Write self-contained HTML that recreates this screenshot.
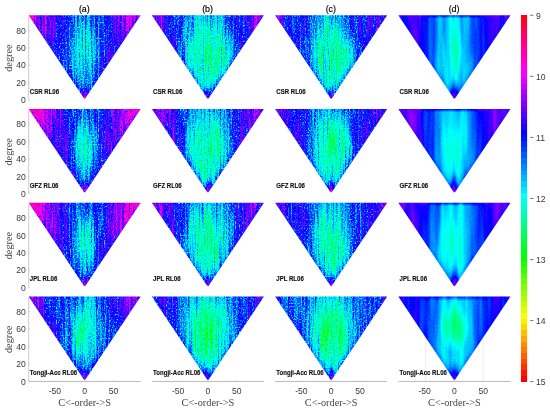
<!DOCTYPE html>
<html lang="en"><head><meta charset="utf-8"><title>figure</title>
<style>html,body{margin:0;padding:0;background:#fff;overflow:hidden}svg{display:block}text{font-family:"Liberation Sans",Arial,sans-serif}.tk{font-size:8.6px;fill:#383838}.ser{font-family:"Liberation Serif","Times New Roman",serif;font-size:10.3px;fill:#454545}.ttl{font-size:8.9px;fill:#000;stroke:#000;stroke-width:0.15px}.lab{font-size:7.1px;font-weight:bold;fill:#111;stroke:#111;stroke-width:0.15px}</style></head><body>
<svg width="550" height="413" viewBox="0 0 550 413">
<defs>
<filter id="f00" x="0" y="0" width="1" height="1" filterUnits="objectBoundingBox" color-interpolation-filters="sRGB">
<feTurbulence type="fractalNoise" baseFrequency="0.71 0.63" numOctaves="1" seed="1"/>
<feColorMatrix type="matrix" values="1 0 0 0 0  1 0 0 0 0  1 0 0 0 0  0 0 0 0 1"/>
<feComponentTransfer result="n1"><feFuncR type="table" tableValues="0.36 0.38 0.41 0.44 0.47 0.50 0.60 0.74 0.90 1 1"/><feFuncG type="table" tableValues="0.36 0.38 0.41 0.44 0.47 0.50 0.60 0.74 0.90 1 1"/><feFuncB type="table" tableValues="0.36 0.38 0.41 0.44 0.47 0.50 0.60 0.74 0.90 1 1"/></feComponentTransfer>
<feTurbulence type="fractalNoise" baseFrequency="0.55 0.025" numOctaves="2" seed="41"/>
<feColorMatrix type="matrix" values="1 0 0 0 0  1 0 0 0 0  1 0 0 0 0  0 0 0 0 1" result="n2"/>
<feComposite in="SourceGraphic" in2="n1" operator="arithmetic" k1="0" k2="1" k3="0.480" k4="-0.2568" result="c1"/>
<feComposite in="c1" in2="n2" operator="arithmetic" k1="0" k2="1" k3="0.300" k4="-0.1500"/>
<feComponentTransfer><feFuncR type="table" tableValues="1 1 0 0 0 1 1"/><feFuncG type="table" tableValues="0 0 0 1 1 1 0"/><feFuncB type="table" tableValues="0 1 1 1 0 0 0"/></feComponentTransfer>
<feGaussianBlur stdDeviation="0.66"/>
</filter>
<linearGradient id="h00" gradientUnits="userSpaceOnUse" x1="28.60" y1="0" x2="140.70" y2="0">
<stop offset="0.0000" stop-color="#282828"/>
<stop offset="0.0594" stop-color="#2e2e2e"/>
<stop offset="0.1107" stop-color="#3a3a3a"/>
<stop offset="0.1619" stop-color="#474747"/>
<stop offset="0.2182" stop-color="#4f4f4f"/>
<stop offset="0.2951" stop-color="#595959"/>
<stop offset="0.3975" stop-color="#666666"/>
<stop offset="0.5000" stop-color="#686868"/>
<stop offset="0.6025" stop-color="#666666"/>
<stop offset="0.7049" stop-color="#595959"/>
<stop offset="0.7818" stop-color="#4f4f4f"/>
<stop offset="0.8381" stop-color="#474747"/>
<stop offset="0.8893" stop-color="#3a3a3a"/>
<stop offset="0.9406" stop-color="#2e2e2e"/>
<stop offset="1.0000" stop-color="#282828"/>
</linearGradient>
<radialGradient id="b00_0"><stop offset="0" stop-color="#8e8e8e" stop-opacity="0.85"/><stop offset="0.45" stop-color="#8e8e8e" stop-opacity="0.552"/><stop offset="0.75" stop-color="#8e8e8e" stop-opacity="0.187"/><stop offset="1" stop-color="#8e8e8e" stop-opacity="0"/></radialGradient>
<radialGradient id="a00"><stop offset="0" stop-color="#373737" stop-opacity="0.9"/><stop offset="0.4" stop-color="#373737" stop-opacity="0.630"/><stop offset="1" stop-color="#373737" stop-opacity="0"/></radialGradient>
<clipPath id="c00"><path d="M28.60 15.30H140.70L85.25 98.40H84.05Z"/></clipPath>
<filter id="f01" x="0" y="0" width="1" height="1" filterUnits="objectBoundingBox" color-interpolation-filters="sRGB">
<feTurbulence type="fractalNoise" baseFrequency="0.71 0.63" numOctaves="1" seed="2"/>
<feColorMatrix type="matrix" values="1 0 0 0 0  1 0 0 0 0  1 0 0 0 0  0 0 0 0 1"/>
<feComponentTransfer result="n1"><feFuncR type="table" tableValues="0.36 0.38 0.41 0.44 0.47 0.50 0.60 0.74 0.90 1 1"/><feFuncG type="table" tableValues="0.36 0.38 0.41 0.44 0.47 0.50 0.60 0.74 0.90 1 1"/><feFuncB type="table" tableValues="0.36 0.38 0.41 0.44 0.47 0.50 0.60 0.74 0.90 1 1"/></feComponentTransfer>
<feTurbulence type="fractalNoise" baseFrequency="0.55 0.025" numOctaves="2" seed="42"/>
<feColorMatrix type="matrix" values="1 0 0 0 0  1 0 0 0 0  1 0 0 0 0  0 0 0 0 1" result="n2"/>
<feComposite in="SourceGraphic" in2="n1" operator="arithmetic" k1="0" k2="1" k3="0.480" k4="-0.2568" result="c1"/>
<feComposite in="c1" in2="n2" operator="arithmetic" k1="0" k2="1" k3="0.300" k4="-0.1500"/>
<feComponentTransfer><feFuncR type="table" tableValues="1 1 0 0 0 1 1"/><feFuncG type="table" tableValues="0 0 0 1 1 1 0"/><feFuncB type="table" tableValues="0 1 1 1 0 0 0"/></feComponentTransfer>
<feGaussianBlur stdDeviation="0.66"/>
</filter>
<linearGradient id="h01" gradientUnits="userSpaceOnUse" x1="151.85" y1="0" x2="263.95" y2="0">
<stop offset="0.0000" stop-color="#464646"/>
<stop offset="0.0441" stop-color="#474747"/>
<stop offset="0.0799" stop-color="#414141"/>
<stop offset="0.1158" stop-color="#4b4b4b"/>
<stop offset="0.1516" stop-color="#515151"/>
<stop offset="0.2029" stop-color="#555555"/>
<stop offset="0.2541" stop-color="#5d5d5d"/>
<stop offset="0.3053" stop-color="#686868"/>
<stop offset="0.3719" stop-color="#707070"/>
<stop offset="0.5000" stop-color="#727272"/>
<stop offset="0.6281" stop-color="#707070"/>
<stop offset="0.6947" stop-color="#686868"/>
<stop offset="0.7459" stop-color="#5d5d5d"/>
<stop offset="0.7971" stop-color="#555555"/>
<stop offset="0.8484" stop-color="#515151"/>
<stop offset="0.8842" stop-color="#4b4b4b"/>
<stop offset="0.9201" stop-color="#414141"/>
<stop offset="0.9559" stop-color="#474747"/>
<stop offset="1.0000" stop-color="#464646"/>
</linearGradient>
<radialGradient id="b01_0"><stop offset="0" stop-color="#979797" stop-opacity="0.85"/><stop offset="0.45" stop-color="#979797" stop-opacity="0.552"/><stop offset="0.75" stop-color="#979797" stop-opacity="0.187"/><stop offset="1" stop-color="#979797" stop-opacity="0"/></radialGradient>
<radialGradient id="a01"><stop offset="0" stop-color="#404040" stop-opacity="0.9"/><stop offset="0.4" stop-color="#404040" stop-opacity="0.630"/><stop offset="1" stop-color="#404040" stop-opacity="0"/></radialGradient>
<clipPath id="c01"><path d="M151.85 15.30H263.95L208.50 98.40H207.30Z"/></clipPath>
<filter id="f02" x="0" y="0" width="1" height="1" filterUnits="objectBoundingBox" color-interpolation-filters="sRGB">
<feTurbulence type="fractalNoise" baseFrequency="0.71 0.63" numOctaves="1" seed="3"/>
<feColorMatrix type="matrix" values="1 0 0 0 0  1 0 0 0 0  1 0 0 0 0  0 0 0 0 1"/>
<feComponentTransfer result="n1"><feFuncR type="table" tableValues="0.36 0.38 0.41 0.44 0.47 0.50 0.60 0.74 0.90 1 1"/><feFuncG type="table" tableValues="0.36 0.38 0.41 0.44 0.47 0.50 0.60 0.74 0.90 1 1"/><feFuncB type="table" tableValues="0.36 0.38 0.41 0.44 0.47 0.50 0.60 0.74 0.90 1 1"/></feComponentTransfer>
<feTurbulence type="fractalNoise" baseFrequency="0.55 0.025" numOctaves="2" seed="43"/>
<feColorMatrix type="matrix" values="1 0 0 0 0  1 0 0 0 0  1 0 0 0 0  0 0 0 0 1" result="n2"/>
<feComposite in="SourceGraphic" in2="n1" operator="arithmetic" k1="0" k2="1" k3="0.480" k4="-0.2568" result="c1"/>
<feComposite in="c1" in2="n2" operator="arithmetic" k1="0" k2="1" k3="0.300" k4="-0.1500"/>
<feComponentTransfer><feFuncR type="table" tableValues="1 1 0 0 0 1 1"/><feFuncG type="table" tableValues="0 0 0 1 1 1 0"/><feFuncB type="table" tableValues="0 1 1 1 0 0 0"/></feComponentTransfer>
<feGaussianBlur stdDeviation="0.66"/>
</filter>
<linearGradient id="h02" gradientUnits="userSpaceOnUse" x1="275.10" y1="0" x2="387.20" y2="0">
<stop offset="0.0000" stop-color="#3d3d3d"/>
<stop offset="0.0389" stop-color="#464646"/>
<stop offset="0.0902" stop-color="#515151"/>
<stop offset="0.1516" stop-color="#565656"/>
<stop offset="0.2182" stop-color="#595959"/>
<stop offset="0.2848" stop-color="#5f5f5f"/>
<stop offset="0.3463" stop-color="#686868"/>
<stop offset="0.4078" stop-color="#707070"/>
<stop offset="0.5000" stop-color="#717171"/>
<stop offset="0.5922" stop-color="#707070"/>
<stop offset="0.6537" stop-color="#686868"/>
<stop offset="0.7152" stop-color="#5f5f5f"/>
<stop offset="0.7818" stop-color="#595959"/>
<stop offset="0.8484" stop-color="#565656"/>
<stop offset="0.9098" stop-color="#515151"/>
<stop offset="0.9611" stop-color="#464646"/>
<stop offset="1.0000" stop-color="#3d3d3d"/>
</linearGradient>
<radialGradient id="b02_0"><stop offset="0" stop-color="#999999" stop-opacity="0.85"/><stop offset="0.45" stop-color="#999999" stop-opacity="0.552"/><stop offset="0.75" stop-color="#999999" stop-opacity="0.187"/><stop offset="1" stop-color="#999999" stop-opacity="0"/></radialGradient>
<radialGradient id="a02"><stop offset="0" stop-color="#404040" stop-opacity="0.9"/><stop offset="0.4" stop-color="#404040" stop-opacity="0.630"/><stop offset="1" stop-color="#404040" stop-opacity="0"/></radialGradient>
<clipPath id="c02"><path d="M275.10 15.30H387.20L331.75 98.40H330.55Z"/></clipPath>
<filter id="f03" x="0" y="0" width="1" height="1" filterUnits="objectBoundingBox" color-interpolation-filters="sRGB">
<feTurbulence type="fractalNoise" baseFrequency="0.71 0.63" numOctaves="1" seed="4"/>
<feColorMatrix type="matrix" values="1 0 0 0 0  1 0 0 0 0  1 0 0 0 0  0 0 0 0 1"/>
<feComponentTransfer result="n1"><feFuncR type="table" tableValues="0.36 0.38 0.41 0.44 0.47 0.50 0.60 0.74 0.90 1 1"/><feFuncG type="table" tableValues="0.36 0.38 0.41 0.44 0.47 0.50 0.60 0.74 0.90 1 1"/><feFuncB type="table" tableValues="0.36 0.38 0.41 0.44 0.47 0.50 0.60 0.74 0.90 1 1"/></feComponentTransfer>
<feTurbulence type="fractalNoise" baseFrequency="0.17 0.014" numOctaves="2" seed="44"/>
<feColorMatrix type="matrix" values="1 0 0 0 0  1 0 0 0 0  1 0 0 0 0  0 0 0 0 1" result="n2"/>
<feComposite in="SourceGraphic" in2="n1" operator="arithmetic" k1="0" k2="1" k3="0.050" k4="-0.0268" result="c1"/>
<feComposite in="c1" in2="n2" operator="arithmetic" k1="0" k2="1" k3="0.140" k4="-0.0700"/>
<feComponentTransfer><feFuncR type="table" tableValues="1 1 0 0 0 1 1"/><feFuncG type="table" tableValues="0 0 0 1 1 1 0"/><feFuncB type="table" tableValues="0 1 1 1 0 0 0"/></feComponentTransfer>
<feGaussianBlur stdDeviation="0.3"/>
</filter>
<linearGradient id="h03" gradientUnits="userSpaceOnUse" x1="398.35" y1="0" x2="510.45" y2="0">
<stop offset="0.0000" stop-color="#464646"/>
<stop offset="0.0389" stop-color="#484848"/>
<stop offset="0.0697" stop-color="#515151"/>
<stop offset="0.1004" stop-color="#4a4a4a"/>
<stop offset="0.1414" stop-color="#484848"/>
<stop offset="0.1824" stop-color="#515151"/>
<stop offset="0.2234" stop-color="#555555"/>
<stop offset="0.2746" stop-color="#606060"/>
<stop offset="0.3258" stop-color="#686868"/>
<stop offset="0.3770" stop-color="#737373"/>
<stop offset="0.4385" stop-color="#7b7b7b"/>
<stop offset="0.5000" stop-color="#7b7b7b"/>
<stop offset="0.5615" stop-color="#7b7b7b"/>
<stop offset="0.6230" stop-color="#737373"/>
<stop offset="0.6742" stop-color="#686868"/>
<stop offset="0.7254" stop-color="#606060"/>
<stop offset="0.7766" stop-color="#555555"/>
<stop offset="0.8176" stop-color="#515151"/>
<stop offset="0.8586" stop-color="#484848"/>
<stop offset="0.8996" stop-color="#4a4a4a"/>
<stop offset="0.9303" stop-color="#515151"/>
<stop offset="0.9611" stop-color="#484848"/>
<stop offset="1.0000" stop-color="#464646"/>
</linearGradient>
<radialGradient id="b03_0"><stop offset="0" stop-color="#797979" stop-opacity="0.8"/><stop offset="0.45" stop-color="#797979" stop-opacity="0.520"/><stop offset="0.75" stop-color="#797979" stop-opacity="0.176"/><stop offset="1" stop-color="#797979" stop-opacity="0"/></radialGradient>
<radialGradient id="b03_1"><stop offset="0" stop-color="#888888" stop-opacity="0.75"/><stop offset="0.45" stop-color="#888888" stop-opacity="0.488"/><stop offset="0.75" stop-color="#888888" stop-opacity="0.165"/><stop offset="1" stop-color="#888888" stop-opacity="0"/></radialGradient>
<radialGradient id="b03_2"><stop offset="0" stop-color="#555555" stop-opacity="0.9"/><stop offset="0.45" stop-color="#555555" stop-opacity="0.585"/><stop offset="0.75" stop-color="#555555" stop-opacity="0.198"/><stop offset="1" stop-color="#555555" stop-opacity="0"/></radialGradient>
<radialGradient id="a03"><stop offset="0" stop-color="#424242" stop-opacity="0.9"/><stop offset="0.4" stop-color="#424242" stop-opacity="0.630"/><stop offset="1" stop-color="#424242" stop-opacity="0"/></radialGradient>
<linearGradient id="t03" x1="0" y1="0" x2="0" y2="1"><stop offset="0" stop-color="#464646" stop-opacity="0.75"/><stop offset="1" stop-color="#464646" stop-opacity="0"/></linearGradient>
<clipPath id="c03"><path d="M398.35 15.30H510.45L455.00 98.40H453.80Z"/></clipPath>
<filter id="f10" x="0" y="0" width="1" height="1" filterUnits="objectBoundingBox" color-interpolation-filters="sRGB">
<feTurbulence type="fractalNoise" baseFrequency="0.71 0.63" numOctaves="1" seed="5"/>
<feColorMatrix type="matrix" values="1 0 0 0 0  1 0 0 0 0  1 0 0 0 0  0 0 0 0 1"/>
<feComponentTransfer result="n1"><feFuncR type="table" tableValues="0.36 0.38 0.41 0.44 0.47 0.50 0.60 0.74 0.90 1 1"/><feFuncG type="table" tableValues="0.36 0.38 0.41 0.44 0.47 0.50 0.60 0.74 0.90 1 1"/><feFuncB type="table" tableValues="0.36 0.38 0.41 0.44 0.47 0.50 0.60 0.74 0.90 1 1"/></feComponentTransfer>
<feTurbulence type="fractalNoise" baseFrequency="0.55 0.025" numOctaves="2" seed="45"/>
<feColorMatrix type="matrix" values="1 0 0 0 0  1 0 0 0 0  1 0 0 0 0  0 0 0 0 1" result="n2"/>
<feComposite in="SourceGraphic" in2="n1" operator="arithmetic" k1="0" k2="1" k3="0.480" k4="-0.2568" result="c1"/>
<feComposite in="c1" in2="n2" operator="arithmetic" k1="0" k2="1" k3="0.300" k4="-0.1500"/>
<feComponentTransfer><feFuncR type="table" tableValues="1 1 0 0 0 1 1"/><feFuncG type="table" tableValues="0 0 0 1 1 1 0"/><feFuncB type="table" tableValues="0 1 1 1 0 0 0"/></feComponentTransfer>
<feGaussianBlur stdDeviation="0.66"/>
</filter>
<linearGradient id="h10" gradientUnits="userSpaceOnUse" x1="28.60" y1="0" x2="140.70" y2="0">
<stop offset="0.0000" stop-color="#151515"/>
<stop offset="0.0594" stop-color="#1d1d1d"/>
<stop offset="0.1107" stop-color="#2a2a2a"/>
<stop offset="0.1619" stop-color="#393939"/>
<stop offset="0.2182" stop-color="#434343"/>
<stop offset="0.2951" stop-color="#4e4e4e"/>
<stop offset="0.3975" stop-color="#5e5e5e"/>
<stop offset="0.5000" stop-color="#646464"/>
<stop offset="0.6025" stop-color="#606060"/>
<stop offset="0.7049" stop-color="#515151"/>
<stop offset="0.7818" stop-color="#464646"/>
<stop offset="0.8381" stop-color="#3d3d3d"/>
<stop offset="0.8893" stop-color="#2f2f2f"/>
<stop offset="0.9406" stop-color="#232323"/>
<stop offset="1.0000" stop-color="#1c1c1c"/>
</linearGradient>
<radialGradient id="b10_0"><stop offset="0" stop-color="#959595" stop-opacity="0.85"/><stop offset="0.45" stop-color="#959595" stop-opacity="0.552"/><stop offset="0.75" stop-color="#959595" stop-opacity="0.187"/><stop offset="1" stop-color="#959595" stop-opacity="0"/></radialGradient>
<radialGradient id="a10"><stop offset="0" stop-color="#373737" stop-opacity="0.9"/><stop offset="0.4" stop-color="#373737" stop-opacity="0.630"/><stop offset="1" stop-color="#373737" stop-opacity="0"/></radialGradient>
<clipPath id="c10"><path d="M28.60 109.05H140.70L85.25 192.15H84.05Z"/></clipPath>
<filter id="f11" x="0" y="0" width="1" height="1" filterUnits="objectBoundingBox" color-interpolation-filters="sRGB">
<feTurbulence type="fractalNoise" baseFrequency="0.71 0.63" numOctaves="1" seed="6"/>
<feColorMatrix type="matrix" values="1 0 0 0 0  1 0 0 0 0  1 0 0 0 0  0 0 0 0 1"/>
<feComponentTransfer result="n1"><feFuncR type="table" tableValues="0.36 0.38 0.41 0.44 0.47 0.50 0.60 0.74 0.90 1 1"/><feFuncG type="table" tableValues="0.36 0.38 0.41 0.44 0.47 0.50 0.60 0.74 0.90 1 1"/><feFuncB type="table" tableValues="0.36 0.38 0.41 0.44 0.47 0.50 0.60 0.74 0.90 1 1"/></feComponentTransfer>
<feTurbulence type="fractalNoise" baseFrequency="0.55 0.025" numOctaves="2" seed="46"/>
<feColorMatrix type="matrix" values="1 0 0 0 0  1 0 0 0 0  1 0 0 0 0  0 0 0 0 1" result="n2"/>
<feComposite in="SourceGraphic" in2="n1" operator="arithmetic" k1="0" k2="1" k3="0.480" k4="-0.2568" result="c1"/>
<feComposite in="c1" in2="n2" operator="arithmetic" k1="0" k2="1" k3="0.300" k4="-0.1500"/>
<feComponentTransfer><feFuncR type="table" tableValues="1 1 0 0 0 1 1"/><feFuncG type="table" tableValues="0 0 0 1 1 1 0"/><feFuncB type="table" tableValues="0 1 1 1 0 0 0"/></feComponentTransfer>
<feGaussianBlur stdDeviation="0.66"/>
</filter>
<linearGradient id="h11" gradientUnits="userSpaceOnUse" x1="151.85" y1="0" x2="263.95" y2="0">
<stop offset="0.0000" stop-color="#3e3e3e"/>
<stop offset="0.0441" stop-color="#404040"/>
<stop offset="0.0799" stop-color="#383838"/>
<stop offset="0.1158" stop-color="#434343"/>
<stop offset="0.1516" stop-color="#4a4a4a"/>
<stop offset="0.2029" stop-color="#4f4f4f"/>
<stop offset="0.2541" stop-color="#585858"/>
<stop offset="0.3053" stop-color="#646464"/>
<stop offset="0.3719" stop-color="#6d6d6d"/>
<stop offset="0.5000" stop-color="#6f6f6f"/>
<stop offset="0.6281" stop-color="#6d6d6d"/>
<stop offset="0.6947" stop-color="#646464"/>
<stop offset="0.7459" stop-color="#585858"/>
<stop offset="0.7971" stop-color="#4f4f4f"/>
<stop offset="0.8484" stop-color="#4a4a4a"/>
<stop offset="0.8842" stop-color="#434343"/>
<stop offset="0.9201" stop-color="#383838"/>
<stop offset="0.9559" stop-color="#404040"/>
<stop offset="1.0000" stop-color="#3e3e3e"/>
</linearGradient>
<radialGradient id="b11_0"><stop offset="0" stop-color="#979797" stop-opacity="0.85"/><stop offset="0.45" stop-color="#979797" stop-opacity="0.552"/><stop offset="0.75" stop-color="#979797" stop-opacity="0.187"/><stop offset="1" stop-color="#979797" stop-opacity="0"/></radialGradient>
<radialGradient id="a11"><stop offset="0" stop-color="#404040" stop-opacity="0.9"/><stop offset="0.4" stop-color="#404040" stop-opacity="0.630"/><stop offset="1" stop-color="#404040" stop-opacity="0"/></radialGradient>
<clipPath id="c11"><path d="M151.85 109.05H263.95L208.50 192.15H207.30Z"/></clipPath>
<filter id="f12" x="0" y="0" width="1" height="1" filterUnits="objectBoundingBox" color-interpolation-filters="sRGB">
<feTurbulence type="fractalNoise" baseFrequency="0.71 0.63" numOctaves="1" seed="7"/>
<feColorMatrix type="matrix" values="1 0 0 0 0  1 0 0 0 0  1 0 0 0 0  0 0 0 0 1"/>
<feComponentTransfer result="n1"><feFuncR type="table" tableValues="0.36 0.38 0.41 0.44 0.47 0.50 0.60 0.74 0.90 1 1"/><feFuncG type="table" tableValues="0.36 0.38 0.41 0.44 0.47 0.50 0.60 0.74 0.90 1 1"/><feFuncB type="table" tableValues="0.36 0.38 0.41 0.44 0.47 0.50 0.60 0.74 0.90 1 1"/></feComponentTransfer>
<feTurbulence type="fractalNoise" baseFrequency="0.55 0.025" numOctaves="2" seed="47"/>
<feColorMatrix type="matrix" values="1 0 0 0 0  1 0 0 0 0  1 0 0 0 0  0 0 0 0 1" result="n2"/>
<feComposite in="SourceGraphic" in2="n1" operator="arithmetic" k1="0" k2="1" k3="0.480" k4="-0.2568" result="c1"/>
<feComposite in="c1" in2="n2" operator="arithmetic" k1="0" k2="1" k3="0.300" k4="-0.1500"/>
<feComponentTransfer><feFuncR type="table" tableValues="1 1 0 0 0 1 1"/><feFuncG type="table" tableValues="0 0 0 1 1 1 0"/><feFuncB type="table" tableValues="0 1 1 1 0 0 0"/></feComponentTransfer>
<feGaussianBlur stdDeviation="0.66"/>
</filter>
<linearGradient id="h12" gradientUnits="userSpaceOnUse" x1="275.10" y1="0" x2="387.20" y2="0">
<stop offset="0.0000" stop-color="#373737"/>
<stop offset="0.0389" stop-color="#414141"/>
<stop offset="0.0902" stop-color="#4d4d4d"/>
<stop offset="0.1516" stop-color="#525252"/>
<stop offset="0.2182" stop-color="#555555"/>
<stop offset="0.2848" stop-color="#5b5b5b"/>
<stop offset="0.3463" stop-color="#656565"/>
<stop offset="0.4078" stop-color="#6e6e6e"/>
<stop offset="0.5000" stop-color="#6f6f6f"/>
<stop offset="0.5922" stop-color="#6e6e6e"/>
<stop offset="0.6537" stop-color="#656565"/>
<stop offset="0.7152" stop-color="#5b5b5b"/>
<stop offset="0.7818" stop-color="#555555"/>
<stop offset="0.8484" stop-color="#525252"/>
<stop offset="0.9098" stop-color="#4d4d4d"/>
<stop offset="0.9611" stop-color="#414141"/>
<stop offset="1.0000" stop-color="#373737"/>
</linearGradient>
<radialGradient id="b12_0"><stop offset="0" stop-color="#999999" stop-opacity="0.85"/><stop offset="0.45" stop-color="#999999" stop-opacity="0.552"/><stop offset="0.75" stop-color="#999999" stop-opacity="0.187"/><stop offset="1" stop-color="#999999" stop-opacity="0"/></radialGradient>
<radialGradient id="a12"><stop offset="0" stop-color="#404040" stop-opacity="0.9"/><stop offset="0.4" stop-color="#404040" stop-opacity="0.630"/><stop offset="1" stop-color="#404040" stop-opacity="0"/></radialGradient>
<clipPath id="c12"><path d="M275.10 109.05H387.20L331.75 192.15H330.55Z"/></clipPath>
<filter id="f13" x="0" y="0" width="1" height="1" filterUnits="objectBoundingBox" color-interpolation-filters="sRGB">
<feTurbulence type="fractalNoise" baseFrequency="0.71 0.63" numOctaves="1" seed="8"/>
<feColorMatrix type="matrix" values="1 0 0 0 0  1 0 0 0 0  1 0 0 0 0  0 0 0 0 1"/>
<feComponentTransfer result="n1"><feFuncR type="table" tableValues="0.36 0.38 0.41 0.44 0.47 0.50 0.60 0.74 0.90 1 1"/><feFuncG type="table" tableValues="0.36 0.38 0.41 0.44 0.47 0.50 0.60 0.74 0.90 1 1"/><feFuncB type="table" tableValues="0.36 0.38 0.41 0.44 0.47 0.50 0.60 0.74 0.90 1 1"/></feComponentTransfer>
<feTurbulence type="fractalNoise" baseFrequency="0.17 0.014" numOctaves="2" seed="48"/>
<feColorMatrix type="matrix" values="1 0 0 0 0  1 0 0 0 0  1 0 0 0 0  0 0 0 0 1" result="n2"/>
<feComposite in="SourceGraphic" in2="n1" operator="arithmetic" k1="0" k2="1" k3="0.050" k4="-0.0268" result="c1"/>
<feComposite in="c1" in2="n2" operator="arithmetic" k1="0" k2="1" k3="0.140" k4="-0.0700"/>
<feComponentTransfer><feFuncR type="table" tableValues="1 1 0 0 0 1 1"/><feFuncG type="table" tableValues="0 0 0 1 1 1 0"/><feFuncB type="table" tableValues="0 1 1 1 0 0 0"/></feComponentTransfer>
<feGaussianBlur stdDeviation="0.3"/>
</filter>
<linearGradient id="h13" gradientUnits="userSpaceOnUse" x1="398.35" y1="0" x2="510.45" y2="0">
<stop offset="0.0000" stop-color="#3c3c3c"/>
<stop offset="0.0389" stop-color="#3e3e3e"/>
<stop offset="0.0697" stop-color="#484848"/>
<stop offset="0.1004" stop-color="#404040"/>
<stop offset="0.1414" stop-color="#424242"/>
<stop offset="0.1824" stop-color="#4f4f4f"/>
<stop offset="0.2234" stop-color="#535353"/>
<stop offset="0.2746" stop-color="#5d5d5d"/>
<stop offset="0.3258" stop-color="#666666"/>
<stop offset="0.3770" stop-color="#717171"/>
<stop offset="0.4385" stop-color="#7b7b7b"/>
<stop offset="0.5000" stop-color="#7b7b7b"/>
<stop offset="0.5615" stop-color="#7b7b7b"/>
<stop offset="0.6230" stop-color="#717171"/>
<stop offset="0.6742" stop-color="#666666"/>
<stop offset="0.7254" stop-color="#5d5d5d"/>
<stop offset="0.7766" stop-color="#535353"/>
<stop offset="0.8176" stop-color="#4f4f4f"/>
<stop offset="0.8586" stop-color="#424242"/>
<stop offset="0.8996" stop-color="#404040"/>
<stop offset="0.9303" stop-color="#484848"/>
<stop offset="0.9611" stop-color="#3e3e3e"/>
<stop offset="1.0000" stop-color="#3c3c3c"/>
</linearGradient>
<radialGradient id="b13_0"><stop offset="0" stop-color="#797979" stop-opacity="0.8"/><stop offset="0.45" stop-color="#797979" stop-opacity="0.520"/><stop offset="0.75" stop-color="#797979" stop-opacity="0.176"/><stop offset="1" stop-color="#797979" stop-opacity="0"/></radialGradient>
<radialGradient id="b13_1"><stop offset="0" stop-color="#888888" stop-opacity="0.75"/><stop offset="0.45" stop-color="#888888" stop-opacity="0.488"/><stop offset="0.75" stop-color="#888888" stop-opacity="0.165"/><stop offset="1" stop-color="#888888" stop-opacity="0"/></radialGradient>
<radialGradient id="b13_2"><stop offset="0" stop-color="#555555" stop-opacity="0.9"/><stop offset="0.45" stop-color="#555555" stop-opacity="0.585"/><stop offset="0.75" stop-color="#555555" stop-opacity="0.198"/><stop offset="1" stop-color="#555555" stop-opacity="0"/></radialGradient>
<radialGradient id="a13"><stop offset="0" stop-color="#424242" stop-opacity="0.9"/><stop offset="0.4" stop-color="#424242" stop-opacity="0.630"/><stop offset="1" stop-color="#424242" stop-opacity="0"/></radialGradient>
<linearGradient id="t13" x1="0" y1="0" x2="0" y2="1"><stop offset="0" stop-color="#464646" stop-opacity="0.75"/><stop offset="1" stop-color="#464646" stop-opacity="0"/></linearGradient>
<clipPath id="c13"><path d="M398.35 109.05H510.45L455.00 192.15H453.80Z"/></clipPath>
<filter id="f20" x="0" y="0" width="1" height="1" filterUnits="objectBoundingBox" color-interpolation-filters="sRGB">
<feTurbulence type="fractalNoise" baseFrequency="0.71 0.63" numOctaves="1" seed="9"/>
<feColorMatrix type="matrix" values="1 0 0 0 0  1 0 0 0 0  1 0 0 0 0  0 0 0 0 1"/>
<feComponentTransfer result="n1"><feFuncR type="table" tableValues="0.36 0.38 0.41 0.44 0.47 0.50 0.60 0.74 0.90 1 1"/><feFuncG type="table" tableValues="0.36 0.38 0.41 0.44 0.47 0.50 0.60 0.74 0.90 1 1"/><feFuncB type="table" tableValues="0.36 0.38 0.41 0.44 0.47 0.50 0.60 0.74 0.90 1 1"/></feComponentTransfer>
<feTurbulence type="fractalNoise" baseFrequency="0.55 0.025" numOctaves="2" seed="49"/>
<feColorMatrix type="matrix" values="1 0 0 0 0  1 0 0 0 0  1 0 0 0 0  0 0 0 0 1" result="n2"/>
<feComposite in="SourceGraphic" in2="n1" operator="arithmetic" k1="0" k2="1" k3="0.480" k4="-0.2568" result="c1"/>
<feComposite in="c1" in2="n2" operator="arithmetic" k1="0" k2="1" k3="0.300" k4="-0.1500"/>
<feComponentTransfer><feFuncR type="table" tableValues="1 1 0 0 0 1 1"/><feFuncG type="table" tableValues="0 0 0 1 1 1 0"/><feFuncB type="table" tableValues="0 1 1 1 0 0 0"/></feComponentTransfer>
<feGaussianBlur stdDeviation="0.66"/>
</filter>
<linearGradient id="h20" gradientUnits="userSpaceOnUse" x1="28.60" y1="0" x2="140.70" y2="0">
<stop offset="0.0000" stop-color="#151515"/>
<stop offset="0.0594" stop-color="#1d1d1d"/>
<stop offset="0.1107" stop-color="#2a2a2a"/>
<stop offset="0.1619" stop-color="#393939"/>
<stop offset="0.2182" stop-color="#434343"/>
<stop offset="0.2951" stop-color="#4e4e4e"/>
<stop offset="0.3975" stop-color="#5e5e5e"/>
<stop offset="0.5000" stop-color="#646464"/>
<stop offset="0.6025" stop-color="#5f5f5f"/>
<stop offset="0.7049" stop-color="#505050"/>
<stop offset="0.7818" stop-color="#454545"/>
<stop offset="0.8381" stop-color="#3c3c3c"/>
<stop offset="0.8893" stop-color="#2e2e2e"/>
<stop offset="0.9406" stop-color="#212121"/>
<stop offset="1.0000" stop-color="#191919"/>
</linearGradient>
<radialGradient id="b20_0"><stop offset="0" stop-color="#959595" stop-opacity="0.85"/><stop offset="0.45" stop-color="#959595" stop-opacity="0.552"/><stop offset="0.75" stop-color="#959595" stop-opacity="0.187"/><stop offset="1" stop-color="#959595" stop-opacity="0"/></radialGradient>
<radialGradient id="a20"><stop offset="0" stop-color="#373737" stop-opacity="0.9"/><stop offset="0.4" stop-color="#373737" stop-opacity="0.630"/><stop offset="1" stop-color="#373737" stop-opacity="0"/></radialGradient>
<clipPath id="c20"><path d="M28.60 202.80H140.70L85.25 285.90H84.05Z"/></clipPath>
<filter id="f21" x="0" y="0" width="1" height="1" filterUnits="objectBoundingBox" color-interpolation-filters="sRGB">
<feTurbulence type="fractalNoise" baseFrequency="0.71 0.63" numOctaves="1" seed="10"/>
<feColorMatrix type="matrix" values="1 0 0 0 0  1 0 0 0 0  1 0 0 0 0  0 0 0 0 1"/>
<feComponentTransfer result="n1"><feFuncR type="table" tableValues="0.36 0.38 0.41 0.44 0.47 0.50 0.60 0.74 0.90 1 1"/><feFuncG type="table" tableValues="0.36 0.38 0.41 0.44 0.47 0.50 0.60 0.74 0.90 1 1"/><feFuncB type="table" tableValues="0.36 0.38 0.41 0.44 0.47 0.50 0.60 0.74 0.90 1 1"/></feComponentTransfer>
<feTurbulence type="fractalNoise" baseFrequency="0.55 0.025" numOctaves="2" seed="50"/>
<feColorMatrix type="matrix" values="1 0 0 0 0  1 0 0 0 0  1 0 0 0 0  0 0 0 0 1" result="n2"/>
<feComposite in="SourceGraphic" in2="n1" operator="arithmetic" k1="0" k2="1" k3="0.480" k4="-0.2568" result="c1"/>
<feComposite in="c1" in2="n2" operator="arithmetic" k1="0" k2="1" k3="0.300" k4="-0.1500"/>
<feComponentTransfer><feFuncR type="table" tableValues="1 1 0 0 0 1 1"/><feFuncG type="table" tableValues="0 0 0 1 1 1 0"/><feFuncB type="table" tableValues="0 1 1 1 0 0 0"/></feComponentTransfer>
<feGaussianBlur stdDeviation="0.66"/>
</filter>
<linearGradient id="h21" gradientUnits="userSpaceOnUse" x1="151.85" y1="0" x2="263.95" y2="0">
<stop offset="0.0000" stop-color="#424242"/>
<stop offset="0.0441" stop-color="#444444"/>
<stop offset="0.0799" stop-color="#3d3d3d"/>
<stop offset="0.1158" stop-color="#474747"/>
<stop offset="0.1516" stop-color="#4d4d4d"/>
<stop offset="0.2029" stop-color="#525252"/>
<stop offset="0.2541" stop-color="#5a5a5a"/>
<stop offset="0.3053" stop-color="#656565"/>
<stop offset="0.3719" stop-color="#6e6e6e"/>
<stop offset="0.5000" stop-color="#6f6f6f"/>
<stop offset="0.6281" stop-color="#6e6e6e"/>
<stop offset="0.6947" stop-color="#656565"/>
<stop offset="0.7459" stop-color="#5a5a5a"/>
<stop offset="0.7971" stop-color="#525252"/>
<stop offset="0.8484" stop-color="#4d4d4d"/>
<stop offset="0.8842" stop-color="#474747"/>
<stop offset="0.9201" stop-color="#3d3d3d"/>
<stop offset="0.9559" stop-color="#444444"/>
<stop offset="1.0000" stop-color="#424242"/>
</linearGradient>
<radialGradient id="b21_0"><stop offset="0" stop-color="#979797" stop-opacity="0.85"/><stop offset="0.45" stop-color="#979797" stop-opacity="0.552"/><stop offset="0.75" stop-color="#979797" stop-opacity="0.187"/><stop offset="1" stop-color="#979797" stop-opacity="0"/></radialGradient>
<radialGradient id="a21"><stop offset="0" stop-color="#404040" stop-opacity="0.9"/><stop offset="0.4" stop-color="#404040" stop-opacity="0.630"/><stop offset="1" stop-color="#404040" stop-opacity="0"/></radialGradient>
<clipPath id="c21"><path d="M151.85 202.80H263.95L208.50 285.90H207.30Z"/></clipPath>
<filter id="f22" x="0" y="0" width="1" height="1" filterUnits="objectBoundingBox" color-interpolation-filters="sRGB">
<feTurbulence type="fractalNoise" baseFrequency="0.71 0.63" numOctaves="1" seed="11"/>
<feColorMatrix type="matrix" values="1 0 0 0 0  1 0 0 0 0  1 0 0 0 0  0 0 0 0 1"/>
<feComponentTransfer result="n1"><feFuncR type="table" tableValues="0.36 0.38 0.41 0.44 0.47 0.50 0.60 0.74 0.90 1 1"/><feFuncG type="table" tableValues="0.36 0.38 0.41 0.44 0.47 0.50 0.60 0.74 0.90 1 1"/><feFuncB type="table" tableValues="0.36 0.38 0.41 0.44 0.47 0.50 0.60 0.74 0.90 1 1"/></feComponentTransfer>
<feTurbulence type="fractalNoise" baseFrequency="0.55 0.025" numOctaves="2" seed="51"/>
<feColorMatrix type="matrix" values="1 0 0 0 0  1 0 0 0 0  1 0 0 0 0  0 0 0 0 1" result="n2"/>
<feComposite in="SourceGraphic" in2="n1" operator="arithmetic" k1="0" k2="1" k3="0.480" k4="-0.2568" result="c1"/>
<feComposite in="c1" in2="n2" operator="arithmetic" k1="0" k2="1" k3="0.300" k4="-0.1500"/>
<feComponentTransfer><feFuncR type="table" tableValues="1 1 0 0 0 1 1"/><feFuncG type="table" tableValues="0 0 0 1 1 1 0"/><feFuncB type="table" tableValues="0 1 1 1 0 0 0"/></feComponentTransfer>
<feGaussianBlur stdDeviation="0.66"/>
</filter>
<linearGradient id="h22" gradientUnits="userSpaceOnUse" x1="275.10" y1="0" x2="387.20" y2="0">
<stop offset="0.0000" stop-color="#3b3b3b"/>
<stop offset="0.0389" stop-color="#454545"/>
<stop offset="0.0902" stop-color="#4f4f4f"/>
<stop offset="0.1516" stop-color="#545454"/>
<stop offset="0.2182" stop-color="#575757"/>
<stop offset="0.2848" stop-color="#5d5d5d"/>
<stop offset="0.3463" stop-color="#666666"/>
<stop offset="0.4078" stop-color="#6e6e6e"/>
<stop offset="0.5000" stop-color="#6f6f6f"/>
<stop offset="0.5922" stop-color="#6e6e6e"/>
<stop offset="0.6537" stop-color="#666666"/>
<stop offset="0.7152" stop-color="#5d5d5d"/>
<stop offset="0.7818" stop-color="#575757"/>
<stop offset="0.8484" stop-color="#545454"/>
<stop offset="0.9098" stop-color="#4f4f4f"/>
<stop offset="0.9611" stop-color="#454545"/>
<stop offset="1.0000" stop-color="#3b3b3b"/>
</linearGradient>
<radialGradient id="b22_0"><stop offset="0" stop-color="#999999" stop-opacity="0.85"/><stop offset="0.45" stop-color="#999999" stop-opacity="0.552"/><stop offset="0.75" stop-color="#999999" stop-opacity="0.187"/><stop offset="1" stop-color="#999999" stop-opacity="0"/></radialGradient>
<radialGradient id="a22"><stop offset="0" stop-color="#404040" stop-opacity="0.9"/><stop offset="0.4" stop-color="#404040" stop-opacity="0.630"/><stop offset="1" stop-color="#404040" stop-opacity="0"/></radialGradient>
<clipPath id="c22"><path d="M275.10 202.80H387.20L331.75 285.90H330.55Z"/></clipPath>
<filter id="f23" x="0" y="0" width="1" height="1" filterUnits="objectBoundingBox" color-interpolation-filters="sRGB">
<feTurbulence type="fractalNoise" baseFrequency="0.71 0.63" numOctaves="1" seed="12"/>
<feColorMatrix type="matrix" values="1 0 0 0 0  1 0 0 0 0  1 0 0 0 0  0 0 0 0 1"/>
<feComponentTransfer result="n1"><feFuncR type="table" tableValues="0.36 0.38 0.41 0.44 0.47 0.50 0.60 0.74 0.90 1 1"/><feFuncG type="table" tableValues="0.36 0.38 0.41 0.44 0.47 0.50 0.60 0.74 0.90 1 1"/><feFuncB type="table" tableValues="0.36 0.38 0.41 0.44 0.47 0.50 0.60 0.74 0.90 1 1"/></feComponentTransfer>
<feTurbulence type="fractalNoise" baseFrequency="0.17 0.014" numOctaves="2" seed="52"/>
<feColorMatrix type="matrix" values="1 0 0 0 0  1 0 0 0 0  1 0 0 0 0  0 0 0 0 1" result="n2"/>
<feComposite in="SourceGraphic" in2="n1" operator="arithmetic" k1="0" k2="1" k3="0.050" k4="-0.0268" result="c1"/>
<feComposite in="c1" in2="n2" operator="arithmetic" k1="0" k2="1" k3="0.140" k4="-0.0700"/>
<feComponentTransfer><feFuncR type="table" tableValues="1 1 0 0 0 1 1"/><feFuncG type="table" tableValues="0 0 0 1 1 1 0"/><feFuncB type="table" tableValues="0 1 1 1 0 0 0"/></feComponentTransfer>
<feGaussianBlur stdDeviation="0.3"/>
</filter>
<linearGradient id="h23" gradientUnits="userSpaceOnUse" x1="398.35" y1="0" x2="510.45" y2="0">
<stop offset="0.0000" stop-color="#424242"/>
<stop offset="0.0389" stop-color="#444444"/>
<stop offset="0.0697" stop-color="#4d4d4d"/>
<stop offset="0.1004" stop-color="#464646"/>
<stop offset="0.1414" stop-color="#464646"/>
<stop offset="0.1824" stop-color="#515151"/>
<stop offset="0.2234" stop-color="#555555"/>
<stop offset="0.2746" stop-color="#5d5d5d"/>
<stop offset="0.3258" stop-color="#666666"/>
<stop offset="0.3770" stop-color="#717171"/>
<stop offset="0.4385" stop-color="#7b7b7b"/>
<stop offset="0.5000" stop-color="#7b7b7b"/>
<stop offset="0.5615" stop-color="#7b7b7b"/>
<stop offset="0.6230" stop-color="#717171"/>
<stop offset="0.6742" stop-color="#666666"/>
<stop offset="0.7254" stop-color="#5d5d5d"/>
<stop offset="0.7766" stop-color="#555555"/>
<stop offset="0.8176" stop-color="#515151"/>
<stop offset="0.8586" stop-color="#464646"/>
<stop offset="0.8996" stop-color="#464646"/>
<stop offset="0.9303" stop-color="#4d4d4d"/>
<stop offset="0.9611" stop-color="#444444"/>
<stop offset="1.0000" stop-color="#424242"/>
</linearGradient>
<radialGradient id="b23_0"><stop offset="0" stop-color="#797979" stop-opacity="0.8"/><stop offset="0.45" stop-color="#797979" stop-opacity="0.520"/><stop offset="0.75" stop-color="#797979" stop-opacity="0.176"/><stop offset="1" stop-color="#797979" stop-opacity="0"/></radialGradient>
<radialGradient id="b23_1"><stop offset="0" stop-color="#888888" stop-opacity="0.75"/><stop offset="0.45" stop-color="#888888" stop-opacity="0.488"/><stop offset="0.75" stop-color="#888888" stop-opacity="0.165"/><stop offset="1" stop-color="#888888" stop-opacity="0"/></radialGradient>
<radialGradient id="b23_2"><stop offset="0" stop-color="#555555" stop-opacity="0.9"/><stop offset="0.45" stop-color="#555555" stop-opacity="0.585"/><stop offset="0.75" stop-color="#555555" stop-opacity="0.198"/><stop offset="1" stop-color="#555555" stop-opacity="0"/></radialGradient>
<radialGradient id="a23"><stop offset="0" stop-color="#424242" stop-opacity="0.9"/><stop offset="0.4" stop-color="#424242" stop-opacity="0.630"/><stop offset="1" stop-color="#424242" stop-opacity="0"/></radialGradient>
<linearGradient id="t23" x1="0" y1="0" x2="0" y2="1"><stop offset="0" stop-color="#464646" stop-opacity="0.75"/><stop offset="1" stop-color="#464646" stop-opacity="0"/></linearGradient>
<clipPath id="c23"><path d="M398.35 202.80H510.45L455.00 285.90H453.80Z"/></clipPath>
<filter id="f30" x="0" y="0" width="1" height="1" filterUnits="objectBoundingBox" color-interpolation-filters="sRGB">
<feTurbulence type="fractalNoise" baseFrequency="0.71 0.63" numOctaves="1" seed="13"/>
<feColorMatrix type="matrix" values="1 0 0 0 0  1 0 0 0 0  1 0 0 0 0  0 0 0 0 1"/>
<feComponentTransfer result="n1"><feFuncR type="table" tableValues="0.36 0.38 0.41 0.44 0.47 0.50 0.60 0.74 0.90 1 1"/><feFuncG type="table" tableValues="0.36 0.38 0.41 0.44 0.47 0.50 0.60 0.74 0.90 1 1"/><feFuncB type="table" tableValues="0.36 0.38 0.41 0.44 0.47 0.50 0.60 0.74 0.90 1 1"/></feComponentTransfer>
<feTurbulence type="fractalNoise" baseFrequency="0.55 0.025" numOctaves="2" seed="53"/>
<feColorMatrix type="matrix" values="1 0 0 0 0  1 0 0 0 0  1 0 0 0 0  0 0 0 0 1" result="n2"/>
<feComposite in="SourceGraphic" in2="n1" operator="arithmetic" k1="0" k2="1" k3="0.480" k4="-0.2568" result="c1"/>
<feComposite in="c1" in2="n2" operator="arithmetic" k1="0" k2="1" k3="0.300" k4="-0.1500"/>
<feComponentTransfer><feFuncR type="table" tableValues="1 1 0 0 0 1 1"/><feFuncG type="table" tableValues="0 0 0 1 1 1 0"/><feFuncB type="table" tableValues="0 1 1 1 0 0 0"/></feComponentTransfer>
<feGaussianBlur stdDeviation="0.66"/>
</filter>
<linearGradient id="h30" gradientUnits="userSpaceOnUse" x1="28.60" y1="0" x2="140.70" y2="0">
<stop offset="0.0000" stop-color="#393939"/>
<stop offset="0.0594" stop-color="#3e3e3e"/>
<stop offset="0.1107" stop-color="#484848"/>
<stop offset="0.1619" stop-color="#525252"/>
<stop offset="0.2182" stop-color="#595959"/>
<stop offset="0.2951" stop-color="#606060"/>
<stop offset="0.3975" stop-color="#6a6a6a"/>
<stop offset="0.5000" stop-color="#6c6c6c"/>
<stop offset="0.6025" stop-color="#6a6a6a"/>
<stop offset="0.7049" stop-color="#606060"/>
<stop offset="0.7818" stop-color="#595959"/>
<stop offset="0.8381" stop-color="#525252"/>
<stop offset="0.8893" stop-color="#484848"/>
<stop offset="0.9406" stop-color="#3e3e3e"/>
<stop offset="1.0000" stop-color="#393939"/>
</linearGradient>
<radialGradient id="b30_0"><stop offset="0" stop-color="#999999" stop-opacity="0.85"/><stop offset="0.45" stop-color="#999999" stop-opacity="0.552"/><stop offset="0.75" stop-color="#999999" stop-opacity="0.187"/><stop offset="1" stop-color="#999999" stop-opacity="0"/></radialGradient>
<radialGradient id="a30"><stop offset="0" stop-color="#373737" stop-opacity="0.9"/><stop offset="0.4" stop-color="#373737" stop-opacity="0.630"/><stop offset="1" stop-color="#373737" stop-opacity="0"/></radialGradient>
<clipPath id="c30"><path d="M28.60 296.55H140.70L85.25 379.65H84.05Z"/></clipPath>
<filter id="f31" x="0" y="0" width="1" height="1" filterUnits="objectBoundingBox" color-interpolation-filters="sRGB">
<feTurbulence type="fractalNoise" baseFrequency="0.71 0.63" numOctaves="1" seed="14"/>
<feColorMatrix type="matrix" values="1 0 0 0 0  1 0 0 0 0  1 0 0 0 0  0 0 0 0 1"/>
<feComponentTransfer result="n1"><feFuncR type="table" tableValues="0.36 0.38 0.41 0.44 0.47 0.50 0.60 0.74 0.90 1 1"/><feFuncG type="table" tableValues="0.36 0.38 0.41 0.44 0.47 0.50 0.60 0.74 0.90 1 1"/><feFuncB type="table" tableValues="0.36 0.38 0.41 0.44 0.47 0.50 0.60 0.74 0.90 1 1"/></feComponentTransfer>
<feTurbulence type="fractalNoise" baseFrequency="0.55 0.025" numOctaves="2" seed="54"/>
<feColorMatrix type="matrix" values="1 0 0 0 0  1 0 0 0 0  1 0 0 0 0  0 0 0 0 1" result="n2"/>
<feComposite in="SourceGraphic" in2="n1" operator="arithmetic" k1="0" k2="1" k3="0.480" k4="-0.2568" result="c1"/>
<feComposite in="c1" in2="n2" operator="arithmetic" k1="0" k2="1" k3="0.300" k4="-0.1500"/>
<feComponentTransfer><feFuncR type="table" tableValues="1 1 0 0 0 1 1"/><feFuncG type="table" tableValues="0 0 0 1 1 1 0"/><feFuncB type="table" tableValues="0 1 1 1 0 0 0"/></feComponentTransfer>
<feGaussianBlur stdDeviation="0.66"/>
</filter>
<linearGradient id="h31" gradientUnits="userSpaceOnUse" x1="151.85" y1="0" x2="263.95" y2="0">
<stop offset="0.0000" stop-color="#4f4f4f"/>
<stop offset="0.0441" stop-color="#515151"/>
<stop offset="0.0799" stop-color="#4b4b4b"/>
<stop offset="0.1158" stop-color="#545454"/>
<stop offset="0.1516" stop-color="#595959"/>
<stop offset="0.2029" stop-color="#5c5c5c"/>
<stop offset="0.2541" stop-color="#646464"/>
<stop offset="0.3053" stop-color="#6c6c6c"/>
<stop offset="0.3719" stop-color="#737373"/>
<stop offset="0.5000" stop-color="#757575"/>
<stop offset="0.6281" stop-color="#737373"/>
<stop offset="0.6947" stop-color="#6c6c6c"/>
<stop offset="0.7459" stop-color="#646464"/>
<stop offset="0.7971" stop-color="#5c5c5c"/>
<stop offset="0.8484" stop-color="#595959"/>
<stop offset="0.8842" stop-color="#545454"/>
<stop offset="0.9201" stop-color="#4b4b4b"/>
<stop offset="0.9559" stop-color="#515151"/>
<stop offset="1.0000" stop-color="#4f4f4f"/>
</linearGradient>
<radialGradient id="b31_0"><stop offset="0" stop-color="#a1a1a1" stop-opacity="0.88"/><stop offset="0.45" stop-color="#a1a1a1" stop-opacity="0.572"/><stop offset="0.75" stop-color="#a1a1a1" stop-opacity="0.194"/><stop offset="1" stop-color="#a1a1a1" stop-opacity="0"/></radialGradient>
<radialGradient id="a31"><stop offset="0" stop-color="#404040" stop-opacity="0.9"/><stop offset="0.4" stop-color="#404040" stop-opacity="0.630"/><stop offset="1" stop-color="#404040" stop-opacity="0"/></radialGradient>
<clipPath id="c31"><path d="M151.85 296.55H263.95L208.50 379.65H207.30Z"/></clipPath>
<filter id="f32" x="0" y="0" width="1" height="1" filterUnits="objectBoundingBox" color-interpolation-filters="sRGB">
<feTurbulence type="fractalNoise" baseFrequency="0.71 0.63" numOctaves="1" seed="15"/>
<feColorMatrix type="matrix" values="1 0 0 0 0  1 0 0 0 0  1 0 0 0 0  0 0 0 0 1"/>
<feComponentTransfer result="n1"><feFuncR type="table" tableValues="0.36 0.38 0.41 0.44 0.47 0.50 0.60 0.74 0.90 1 1"/><feFuncG type="table" tableValues="0.36 0.38 0.41 0.44 0.47 0.50 0.60 0.74 0.90 1 1"/><feFuncB type="table" tableValues="0.36 0.38 0.41 0.44 0.47 0.50 0.60 0.74 0.90 1 1"/></feComponentTransfer>
<feTurbulence type="fractalNoise" baseFrequency="0.55 0.025" numOctaves="2" seed="55"/>
<feColorMatrix type="matrix" values="1 0 0 0 0  1 0 0 0 0  1 0 0 0 0  0 0 0 0 1" result="n2"/>
<feComposite in="SourceGraphic" in2="n1" operator="arithmetic" k1="0" k2="1" k3="0.480" k4="-0.2568" result="c1"/>
<feComposite in="c1" in2="n2" operator="arithmetic" k1="0" k2="1" k3="0.300" k4="-0.1500"/>
<feComponentTransfer><feFuncR type="table" tableValues="1 1 0 0 0 1 1"/><feFuncG type="table" tableValues="0 0 0 1 1 1 0"/><feFuncB type="table" tableValues="0 1 1 1 0 0 0"/></feComponentTransfer>
<feGaussianBlur stdDeviation="0.66"/>
</filter>
<linearGradient id="h32" gradientUnits="userSpaceOnUse" x1="275.10" y1="0" x2="387.20" y2="0">
<stop offset="0.0000" stop-color="#515151"/>
<stop offset="0.0389" stop-color="#575757"/>
<stop offset="0.0902" stop-color="#5f5f5f"/>
<stop offset="0.1516" stop-color="#626262"/>
<stop offset="0.2182" stop-color="#646464"/>
<stop offset="0.2848" stop-color="#686868"/>
<stop offset="0.3463" stop-color="#6e6e6e"/>
<stop offset="0.4078" stop-color="#747474"/>
<stop offset="0.5000" stop-color="#757575"/>
<stop offset="0.5922" stop-color="#747474"/>
<stop offset="0.6537" stop-color="#6e6e6e"/>
<stop offset="0.7152" stop-color="#686868"/>
<stop offset="0.7818" stop-color="#646464"/>
<stop offset="0.8484" stop-color="#626262"/>
<stop offset="0.9098" stop-color="#5f5f5f"/>
<stop offset="0.9611" stop-color="#575757"/>
<stop offset="1.0000" stop-color="#515151"/>
</linearGradient>
<radialGradient id="b32_0"><stop offset="0" stop-color="#a2a2a2" stop-opacity="0.88"/><stop offset="0.45" stop-color="#a2a2a2" stop-opacity="0.572"/><stop offset="0.75" stop-color="#a2a2a2" stop-opacity="0.194"/><stop offset="1" stop-color="#a2a2a2" stop-opacity="0"/></radialGradient>
<radialGradient id="a32"><stop offset="0" stop-color="#404040" stop-opacity="0.9"/><stop offset="0.4" stop-color="#404040" stop-opacity="0.630"/><stop offset="1" stop-color="#404040" stop-opacity="0"/></radialGradient>
<clipPath id="c32"><path d="M275.10 296.55H387.20L331.75 379.65H330.55Z"/></clipPath>
<filter id="f33" x="0" y="0" width="1" height="1" filterUnits="objectBoundingBox" color-interpolation-filters="sRGB">
<feTurbulence type="fractalNoise" baseFrequency="0.71 0.63" numOctaves="1" seed="16"/>
<feColorMatrix type="matrix" values="1 0 0 0 0  1 0 0 0 0  1 0 0 0 0  0 0 0 0 1"/>
<feComponentTransfer result="n1"><feFuncR type="table" tableValues="0.36 0.38 0.41 0.44 0.47 0.50 0.60 0.74 0.90 1 1"/><feFuncG type="table" tableValues="0.36 0.38 0.41 0.44 0.47 0.50 0.60 0.74 0.90 1 1"/><feFuncB type="table" tableValues="0.36 0.38 0.41 0.44 0.47 0.50 0.60 0.74 0.90 1 1"/></feComponentTransfer>
<feTurbulence type="fractalNoise" baseFrequency="0.17 0.014" numOctaves="2" seed="56"/>
<feColorMatrix type="matrix" values="1 0 0 0 0  1 0 0 0 0  1 0 0 0 0  0 0 0 0 1" result="n2"/>
<feComposite in="SourceGraphic" in2="n1" operator="arithmetic" k1="0" k2="1" k3="0.050" k4="-0.0268" result="c1"/>
<feComposite in="c1" in2="n2" operator="arithmetic" k1="0" k2="1" k3="0.140" k4="-0.0700"/>
<feComponentTransfer><feFuncR type="table" tableValues="1 1 0 0 0 1 1"/><feFuncG type="table" tableValues="0 0 0 1 1 1 0"/><feFuncB type="table" tableValues="0 1 1 1 0 0 0"/></feComponentTransfer>
<feGaussianBlur stdDeviation="0.3"/>
</filter>
<linearGradient id="h33" gradientUnits="userSpaceOnUse" x1="398.35" y1="0" x2="510.45" y2="0">
<stop offset="0.0000" stop-color="#4d4d4d"/>
<stop offset="0.0389" stop-color="#515151"/>
<stop offset="0.0697" stop-color="#555555"/>
<stop offset="0.1004" stop-color="#535353"/>
<stop offset="0.1414" stop-color="#535353"/>
<stop offset="0.1824" stop-color="#575757"/>
<stop offset="0.2234" stop-color="#5b5b5b"/>
<stop offset="0.2746" stop-color="#646464"/>
<stop offset="0.3258" stop-color="#6c6c6c"/>
<stop offset="0.3770" stop-color="#757575"/>
<stop offset="0.4385" stop-color="#7d7d7d"/>
<stop offset="0.5000" stop-color="#7d7d7d"/>
<stop offset="0.5615" stop-color="#7d7d7d"/>
<stop offset="0.6230" stop-color="#757575"/>
<stop offset="0.6742" stop-color="#6c6c6c"/>
<stop offset="0.7254" stop-color="#646464"/>
<stop offset="0.7766" stop-color="#5b5b5b"/>
<stop offset="0.8176" stop-color="#575757"/>
<stop offset="0.8586" stop-color="#535353"/>
<stop offset="0.8996" stop-color="#535353"/>
<stop offset="0.9303" stop-color="#555555"/>
<stop offset="0.9611" stop-color="#515151"/>
<stop offset="1.0000" stop-color="#4d4d4d"/>
</linearGradient>
<radialGradient id="b33_0"><stop offset="0" stop-color="#797979" stop-opacity="0.8"/><stop offset="0.45" stop-color="#797979" stop-opacity="0.520"/><stop offset="0.75" stop-color="#797979" stop-opacity="0.176"/><stop offset="1" stop-color="#797979" stop-opacity="0"/></radialGradient>
<radialGradient id="b33_1"><stop offset="0" stop-color="#9d9d9d" stop-opacity="0.85"/><stop offset="0.45" stop-color="#9d9d9d" stop-opacity="0.552"/><stop offset="0.75" stop-color="#9d9d9d" stop-opacity="0.187"/><stop offset="1" stop-color="#9d9d9d" stop-opacity="0"/></radialGradient>
<radialGradient id="b33_2"><stop offset="0" stop-color="#555555" stop-opacity="0.9"/><stop offset="0.45" stop-color="#555555" stop-opacity="0.585"/><stop offset="0.75" stop-color="#555555" stop-opacity="0.198"/><stop offset="1" stop-color="#555555" stop-opacity="0"/></radialGradient>
<radialGradient id="a33"><stop offset="0" stop-color="#424242" stop-opacity="0.9"/><stop offset="0.4" stop-color="#424242" stop-opacity="0.630"/><stop offset="1" stop-color="#424242" stop-opacity="0"/></radialGradient>
<linearGradient id="t33" x1="0" y1="0" x2="0" y2="1"><stop offset="0" stop-color="#515151" stop-opacity="0.8"/><stop offset="1" stop-color="#515151" stop-opacity="0"/></linearGradient>
<clipPath id="c33"><path d="M398.35 296.55H510.45L455.00 379.65H453.80Z"/></clipPath>
<filter id="bl" x="-0.2" y="-0.2" width="1.4" height="1.4"><feGaussianBlur stdDeviation="1.6"/></filter>
<linearGradient id="cb" x1="0" y1="0" x2="0" y2="1"><stop offset="0" stop-color="#ff0000"/><stop offset="0.16667" stop-color="#ff00ff"/><stop offset="0.33333" stop-color="#0000ff"/><stop offset="0.5" stop-color="#00ffff"/><stop offset="0.66667" stop-color="#00ff00"/><stop offset="0.83333" stop-color="#ffff00"/><stop offset="1" stop-color="#ff0000"/></linearGradient>
</defs>
<rect width="550" height="413" fill="#fff"/>
<g clip-path="url(#c00)"><g filter="url(#f00)">
<rect x="25.60" y="12.30" width="118.10" height="89.10" fill="url(#h00)"/>
<ellipse cx="84.65" cy="52.50" rx="17.23" ry="38.80" fill="url(#b00_0)"/>
<path d="M28.60 15.30L84.65 98.40L140.70 15.30" fill="none" stroke="#555555" stroke-opacity="0.45" stroke-width="4.5" filter="url(#bl)"/>
<ellipse cx="84.65" cy="98.40" rx="7.20" ry="13.50" fill="url(#a00)"/>
</g></g>
<g clip-path="url(#c01)"><g filter="url(#f01)">
<rect x="148.85" y="12.30" width="118.10" height="89.10" fill="url(#h01)"/>
<ellipse cx="207.90" cy="55.10" rx="34.46" ry="52.65" fill="url(#b01_0)"/>
<path d="M151.85 15.30L207.90 98.40L263.95 15.30" fill="none" stroke="#585858" stroke-opacity="0.45" stroke-width="4.5" filter="url(#bl)"/>
<ellipse cx="207.90" cy="98.40" rx="7.20" ry="13.50" fill="url(#a01)"/>
</g></g>
<g clip-path="url(#c02)"><g filter="url(#f02)">
<rect x="272.10" y="12.30" width="118.10" height="89.10" fill="url(#h02)"/>
<ellipse cx="331.15" cy="56.83" rx="27.57" ry="52.65" fill="url(#b02_0)"/>
<path d="M275.10 15.30L331.15 98.40L387.20 15.30" fill="none" stroke="#585858" stroke-opacity="0.45" stroke-width="4.5" filter="url(#bl)"/>
<ellipse cx="331.15" cy="98.40" rx="7.20" ry="13.50" fill="url(#a02)"/>
</g></g>
<g clip-path="url(#c03)"><g filter="url(#f03)">
<rect x="395.35" y="12.30" width="118.10" height="89.10" fill="url(#h03)"/>
<ellipse cx="454.40" cy="74.15" rx="29.86" ry="27.71" fill="url(#b03_0)"/>
<ellipse cx="454.40" cy="52.50" rx="16.08" ry="33.25" fill="url(#b03_1)"/>
<ellipse cx="454.40" cy="94.07" rx="6.89" ry="18.01" fill="url(#b03_2)"/>
<path d="M398.35 15.30L454.40 98.40L510.45 15.30" fill="none" stroke="#555555" stroke-opacity="0.35" stroke-width="4" filter="url(#bl)"/>
<rect x="397.35" y="14.80" width="114.10" height="3.70" fill="url(#t03)"/>
<ellipse cx="454.40" cy="98.40" rx="6.40" ry="12.00" fill="url(#a03)"/>
</g></g>
<g clip-path="url(#c10)"><g filter="url(#f10)">
<rect x="25.60" y="106.05" width="118.10" height="89.10" fill="url(#h10)"/>
<ellipse cx="84.65" cy="148.85" rx="13.78" ry="41.57" fill="url(#b10_0)"/>
<path d="M28.60 109.05L84.65 192.15L140.70 109.05" fill="none" stroke="#555555" stroke-opacity="0.45" stroke-width="4.5" filter="url(#bl)"/>
<ellipse cx="84.65" cy="192.15" rx="7.20" ry="13.50" fill="url(#a10)"/>
</g></g>
<g clip-path="url(#c11)"><g filter="url(#f11)">
<rect x="148.85" y="106.05" width="118.10" height="89.10" fill="url(#h11)"/>
<ellipse cx="207.90" cy="148.85" rx="29.86" ry="52.65" fill="url(#b11_0)"/>
<path d="M151.85 109.05L207.90 192.15L263.95 109.05" fill="none" stroke="#565656" stroke-opacity="0.45" stroke-width="4.5" filter="url(#bl)"/>
<ellipse cx="207.90" cy="192.15" rx="7.20" ry="13.50" fill="url(#a11)"/>
</g></g>
<g clip-path="url(#c12)"><g filter="url(#f12)">
<rect x="272.10" y="106.05" width="118.10" height="89.10" fill="url(#h12)"/>
<ellipse cx="331.15" cy="148.85" rx="27.57" ry="52.65" fill="url(#b12_0)"/>
<path d="M275.10 109.05L331.15 192.15L387.20 109.05" fill="none" stroke="#565656" stroke-opacity="0.45" stroke-width="4.5" filter="url(#bl)"/>
<ellipse cx="331.15" cy="192.15" rx="7.20" ry="13.50" fill="url(#a12)"/>
</g></g>
<g clip-path="url(#c13)"><g filter="url(#f13)">
<rect x="395.35" y="106.05" width="118.10" height="89.10" fill="url(#h13)"/>
<ellipse cx="454.40" cy="167.90" rx="29.86" ry="27.71" fill="url(#b13_0)"/>
<ellipse cx="454.40" cy="146.25" rx="16.08" ry="33.25" fill="url(#b13_1)"/>
<ellipse cx="454.40" cy="187.82" rx="6.89" ry="18.01" fill="url(#b13_2)"/>
<path d="M398.35 109.05L454.40 192.15L510.45 109.05" fill="none" stroke="#555555" stroke-opacity="0.35" stroke-width="4" filter="url(#bl)"/>
<rect x="397.35" y="108.55" width="114.10" height="3.70" fill="url(#t13)"/>
<ellipse cx="454.40" cy="192.15" rx="6.40" ry="12.00" fill="url(#a13)"/>
</g></g>
<g clip-path="url(#c20)"><g filter="url(#f20)">
<rect x="25.60" y="199.80" width="118.10" height="89.10" fill="url(#h20)"/>
<ellipse cx="84.65" cy="242.60" rx="13.78" ry="41.57" fill="url(#b20_0)"/>
<path d="M28.60 202.80L84.65 285.90L140.70 202.80" fill="none" stroke="#555555" stroke-opacity="0.45" stroke-width="4.5" filter="url(#bl)"/>
<ellipse cx="84.65" cy="285.90" rx="7.20" ry="13.50" fill="url(#a20)"/>
</g></g>
<g clip-path="url(#c21)"><g filter="url(#f21)">
<rect x="148.85" y="199.80" width="118.10" height="89.10" fill="url(#h21)"/>
<ellipse cx="207.90" cy="242.60" rx="29.86" ry="52.65" fill="url(#b21_0)"/>
<path d="M151.85 202.80L207.90 285.90L263.95 202.80" fill="none" stroke="#565656" stroke-opacity="0.45" stroke-width="4.5" filter="url(#bl)"/>
<ellipse cx="207.90" cy="285.90" rx="7.20" ry="13.50" fill="url(#a21)"/>
</g></g>
<g clip-path="url(#c22)"><g filter="url(#f22)">
<rect x="272.10" y="199.80" width="118.10" height="89.10" fill="url(#h22)"/>
<ellipse cx="331.15" cy="242.60" rx="25.27" ry="52.65" fill="url(#b22_0)"/>
<path d="M275.10 202.80L331.15 285.90L387.20 202.80" fill="none" stroke="#565656" stroke-opacity="0.45" stroke-width="4.5" filter="url(#bl)"/>
<ellipse cx="331.15" cy="285.90" rx="7.20" ry="13.50" fill="url(#a22)"/>
</g></g>
<g clip-path="url(#c23)"><g filter="url(#f23)">
<rect x="395.35" y="199.80" width="118.10" height="89.10" fill="url(#h23)"/>
<ellipse cx="454.40" cy="261.65" rx="29.86" ry="27.71" fill="url(#b23_0)"/>
<ellipse cx="454.40" cy="240.00" rx="16.08" ry="33.25" fill="url(#b23_1)"/>
<ellipse cx="454.40" cy="281.57" rx="6.89" ry="18.01" fill="url(#b23_2)"/>
<path d="M398.35 202.80L454.40 285.90L510.45 202.80" fill="none" stroke="#555555" stroke-opacity="0.35" stroke-width="4" filter="url(#bl)"/>
<rect x="397.35" y="202.30" width="114.10" height="3.70" fill="url(#t23)"/>
<ellipse cx="454.40" cy="285.90" rx="6.40" ry="12.00" fill="url(#a23)"/>
</g></g>
<g clip-path="url(#c30)"><g filter="url(#f30)">
<rect x="25.60" y="293.55" width="118.10" height="89.10" fill="url(#h30)"/>
<ellipse cx="84.65" cy="331.15" rx="18.38" ry="37.41" fill="url(#b30_0)"/>
<path d="M28.60 296.55L84.65 379.65L140.70 296.55" fill="none" stroke="#555555" stroke-opacity="0.45" stroke-width="4.5" filter="url(#bl)"/>
<ellipse cx="84.65" cy="379.65" rx="7.20" ry="13.50" fill="url(#a30)"/>
</g></g>
<g clip-path="url(#c31)"><g filter="url(#f31)">
<rect x="148.85" y="293.55" width="118.10" height="89.10" fill="url(#h31)"/>
<ellipse cx="207.90" cy="332.89" rx="32.16" ry="47.11" fill="url(#b31_0)"/>
<path d="M151.85 296.55L207.90 379.65L263.95 296.55" fill="none" stroke="#5b5b5b" stroke-opacity="0.45" stroke-width="4.5" filter="url(#bl)"/>
<ellipse cx="207.90" cy="379.65" rx="7.20" ry="13.50" fill="url(#a31)"/>
</g></g>
<g clip-path="url(#c32)"><g filter="url(#f32)">
<rect x="272.10" y="293.55" width="118.10" height="89.10" fill="url(#h32)"/>
<ellipse cx="331.15" cy="332.89" rx="29.86" ry="47.11" fill="url(#b32_0)"/>
<path d="M275.10 296.55L331.15 379.65L387.20 296.55" fill="none" stroke="#5b5b5b" stroke-opacity="0.45" stroke-width="4.5" filter="url(#bl)"/>
<ellipse cx="331.15" cy="379.65" rx="7.20" ry="13.50" fill="url(#a32)"/>
</g></g>
<g clip-path="url(#c33)"><g filter="url(#f33)">
<rect x="395.35" y="293.55" width="118.10" height="89.10" fill="url(#h33)"/>
<ellipse cx="454.40" cy="355.40" rx="29.86" ry="27.71" fill="url(#b33_0)"/>
<ellipse cx="454.40" cy="326.82" rx="16.08" ry="26.33" fill="url(#b33_1)"/>
<ellipse cx="454.40" cy="375.32" rx="6.89" ry="18.01" fill="url(#b33_2)"/>
<path d="M398.35 296.55L454.40 379.65L510.45 296.55" fill="none" stroke="#555555" stroke-opacity="0.35" stroke-width="4" filter="url(#bl)"/>
<rect x="397.35" y="296.05" width="114.10" height="5.00" fill="url(#t33)"/>
<ellipse cx="454.40" cy="379.65" rx="6.40" ry="12.00" fill="url(#a33)"/>
</g></g>
<path d="M28.70 16.30V100.20" stroke="#b4b4b4" stroke-width="0.7" fill="none"/>
<path d="M28.70 100.10h1" stroke="#b4b4b4" stroke-width="0.6" fill="none"/>
<text class="tk" x="25.7" y="103.30" text-anchor="end">0</text>
<path d="M28.70 82.68h1" stroke="#b4b4b4" stroke-width="0.6" fill="none"/>
<text class="tk" x="25.7" y="85.88" text-anchor="end">20</text>
<path d="M28.70 65.26h1" stroke="#b4b4b4" stroke-width="0.6" fill="none"/>
<text class="tk" x="25.7" y="68.46" text-anchor="end">40</text>
<path d="M28.70 47.84h1" stroke="#b4b4b4" stroke-width="0.6" fill="none"/>
<text class="tk" x="25.7" y="51.04" text-anchor="end">60</text>
<path d="M28.70 30.42h1" stroke="#b4b4b4" stroke-width="0.6" fill="none"/>
<text class="tk" x="25.7" y="33.62" text-anchor="end">80</text>
<text class="ser" transform="translate(11.7 58.10) rotate(-90)" text-anchor="middle">degree</text>
<path d="M28.70 110.05V193.95" stroke="#b4b4b4" stroke-width="0.7" fill="none"/>
<path d="M28.70 193.85h1" stroke="#b4b4b4" stroke-width="0.6" fill="none"/>
<text class="tk" x="25.7" y="197.05" text-anchor="end">0</text>
<path d="M28.70 176.43h1" stroke="#b4b4b4" stroke-width="0.6" fill="none"/>
<text class="tk" x="25.7" y="179.63" text-anchor="end">20</text>
<path d="M28.70 159.01h1" stroke="#b4b4b4" stroke-width="0.6" fill="none"/>
<text class="tk" x="25.7" y="162.21" text-anchor="end">40</text>
<path d="M28.70 141.59h1" stroke="#b4b4b4" stroke-width="0.6" fill="none"/>
<text class="tk" x="25.7" y="144.79" text-anchor="end">60</text>
<path d="M28.70 124.17h1" stroke="#b4b4b4" stroke-width="0.6" fill="none"/>
<text class="tk" x="25.7" y="127.37" text-anchor="end">80</text>
<text class="ser" transform="translate(11.7 151.85) rotate(-90)" text-anchor="middle">degree</text>
<path d="M28.70 203.80V287.70" stroke="#b4b4b4" stroke-width="0.7" fill="none"/>
<path d="M28.70 287.60h1" stroke="#b4b4b4" stroke-width="0.6" fill="none"/>
<text class="tk" x="25.7" y="290.80" text-anchor="end">0</text>
<path d="M28.70 270.18h1" stroke="#b4b4b4" stroke-width="0.6" fill="none"/>
<text class="tk" x="25.7" y="273.38" text-anchor="end">20</text>
<path d="M28.70 252.76h1" stroke="#b4b4b4" stroke-width="0.6" fill="none"/>
<text class="tk" x="25.7" y="255.96" text-anchor="end">40</text>
<path d="M28.70 235.34h1" stroke="#b4b4b4" stroke-width="0.6" fill="none"/>
<text class="tk" x="25.7" y="238.54" text-anchor="end">60</text>
<path d="M28.70 217.92h1" stroke="#b4b4b4" stroke-width="0.6" fill="none"/>
<text class="tk" x="25.7" y="221.12" text-anchor="end">80</text>
<text class="ser" transform="translate(11.7 245.60) rotate(-90)" text-anchor="middle">degree</text>
<path d="M28.70 297.55V381.45" stroke="#b4b4b4" stroke-width="0.7" fill="none"/>
<path d="M28.70 381.35h1" stroke="#b4b4b4" stroke-width="0.6" fill="none"/>
<text class="tk" x="25.7" y="384.55" text-anchor="end">0</text>
<path d="M28.70 363.93h1" stroke="#b4b4b4" stroke-width="0.6" fill="none"/>
<text class="tk" x="25.7" y="367.13" text-anchor="end">20</text>
<path d="M28.70 346.51h1" stroke="#b4b4b4" stroke-width="0.6" fill="none"/>
<text class="tk" x="25.7" y="349.71" text-anchor="end">40</text>
<path d="M28.70 329.09h1" stroke="#b4b4b4" stroke-width="0.6" fill="none"/>
<text class="tk" x="25.7" y="332.29" text-anchor="end">60</text>
<path d="M28.70 311.67h1" stroke="#b4b4b4" stroke-width="0.6" fill="none"/>
<text class="tk" x="25.7" y="314.87" text-anchor="end">80</text>
<text class="ser" transform="translate(11.7 339.35) rotate(-90)" text-anchor="middle">degree</text>
<path d="M28.80 381.45H140.70" stroke="#a8a8a8" stroke-width="0.8" fill="none"/>
<path d="M55.80 381.45v-1.1" stroke="#b4b4b4" stroke-width="0.6" fill="none"/>
<text class="tk" x="54.90" y="394.25" text-anchor="middle">-50</text>
<path d="M84.65 381.45v-1.1" stroke="#b4b4b4" stroke-width="0.6" fill="none"/>
<text class="tk" x="84.65" y="394.25" text-anchor="middle">0</text>
<path d="M113.50 381.45v-1.1" stroke="#b4b4b4" stroke-width="0.6" fill="none"/>
<text class="tk" x="113.50" y="394.25" text-anchor="middle">50</text>
<text class="ser" x="84.65" y="405.85" text-anchor="middle">C&lt;-order-&gt;S</text>
<text class="ttl" x="84.35" y="11.8" text-anchor="middle">(a)</text>
<path d="M152.05 381.45H263.95" stroke="#a8a8a8" stroke-width="0.8" fill="none"/>
<path d="M179.05 381.45v-1.1" stroke="#b4b4b4" stroke-width="0.6" fill="none"/>
<text class="tk" x="178.15" y="394.25" text-anchor="middle">-50</text>
<path d="M207.90 381.45v-1.1" stroke="#b4b4b4" stroke-width="0.6" fill="none"/>
<text class="tk" x="207.90" y="394.25" text-anchor="middle">0</text>
<path d="M236.75 381.45v-1.1" stroke="#b4b4b4" stroke-width="0.6" fill="none"/>
<text class="tk" x="236.75" y="394.25" text-anchor="middle">50</text>
<text class="ser" x="207.90" y="405.85" text-anchor="middle">C&lt;-order-&gt;S</text>
<text class="ttl" x="207.60" y="11.8" text-anchor="middle">(b)</text>
<path d="M275.30 381.45H387.20" stroke="#a8a8a8" stroke-width="0.8" fill="none"/>
<path d="M302.30 381.45v-1.1" stroke="#b4b4b4" stroke-width="0.6" fill="none"/>
<text class="tk" x="301.40" y="394.25" text-anchor="middle">-50</text>
<path d="M331.15 381.45v-1.1" stroke="#b4b4b4" stroke-width="0.6" fill="none"/>
<text class="tk" x="331.15" y="394.25" text-anchor="middle">0</text>
<path d="M360.00 381.45v-1.1" stroke="#b4b4b4" stroke-width="0.6" fill="none"/>
<text class="tk" x="360.00" y="394.25" text-anchor="middle">50</text>
<text class="ser" x="331.15" y="405.85" text-anchor="middle">C&lt;-order-&gt;S</text>
<text class="ttl" x="330.85" y="11.8" text-anchor="middle">(c)</text>
<path d="M398.55 381.45H510.45" stroke="#a8a8a8" stroke-width="0.8" fill="none"/>
<path d="M425.55 381.45v-1.1" stroke="#b4b4b4" stroke-width="0.6" fill="none"/>
<text class="tk" x="424.65" y="394.25" text-anchor="middle">-50</text>
<path d="M454.40 381.45v-1.1" stroke="#b4b4b4" stroke-width="0.6" fill="none"/>
<text class="tk" x="454.40" y="394.25" text-anchor="middle">0</text>
<path d="M483.25 381.45v-1.1" stroke="#b4b4b4" stroke-width="0.6" fill="none"/>
<text class="tk" x="483.25" y="394.25" text-anchor="middle">50</text>
<text class="ser" x="454.40" y="405.85" text-anchor="middle">C&lt;-order-&gt;S</text>
<text class="ttl" x="454.10" y="11.8" text-anchor="middle">(d)</text>
<path d="M425.55 381.15V338.17" stroke="#e6e6e6" stroke-width="0.7" fill="none"/>
<path d="M483.25 381.15V338.17" stroke="#e6e6e6" stroke-width="0.7" fill="none"/>
<text class="lab" transform="translate(29.80 93.80) scale(0.855 1)">CSR RL06</text>
<text class="lab" transform="translate(153.05 93.80) scale(0.855 1)">CSR RL06</text>
<text class="lab" transform="translate(276.30 93.80) scale(0.855 1)">CSR RL06</text>
<text class="lab" transform="translate(399.55 93.80) scale(0.855 1)">CSR RL06</text>
<text class="lab" transform="translate(29.80 187.55) scale(0.855 1)">GFZ RL06</text>
<text class="lab" transform="translate(153.05 187.55) scale(0.855 1)">GFZ RL06</text>
<text class="lab" transform="translate(276.30 187.55) scale(0.855 1)">GFZ RL06</text>
<text class="lab" transform="translate(399.55 187.55) scale(0.855 1)">GFZ RL06</text>
<text class="lab" transform="translate(29.80 281.30) scale(0.855 1)">JPL RL06</text>
<text class="lab" transform="translate(153.05 281.30) scale(0.855 1)">JPL RL06</text>
<text class="lab" transform="translate(276.30 281.30) scale(0.855 1)">JPL RL06</text>
<text class="lab" transform="translate(399.55 281.30) scale(0.855 1)">JPL RL06</text>
<text class="lab" transform="translate(29.80 375.05) scale(0.855 1)">Tongji-Acc RL06</text>
<text class="lab" transform="translate(153.05 375.05) scale(0.855 1)">Tongji-Acc RL06</text>
<text class="lab" transform="translate(276.30 375.05) scale(0.855 1)">Tongji-Acc RL06</text>
<text class="lab" transform="translate(399.55 375.05) scale(0.855 1)">Tongji-Acc RL06</text>
<rect x="521" y="15" width="6.1" height="366.6" fill="url(#cb)"/>
<g shape-rendering="crispEdges">
<rect x="521" y="15.00" width="6.1" height="6.03" fill="#ff0018"/>
<rect x="521" y="20.73" width="6.1" height="6.03" fill="#ff0030"/>
<rect x="521" y="26.46" width="6.1" height="6.03" fill="#ff0048"/>
<rect x="521" y="32.18" width="6.1" height="6.03" fill="#ff0060"/>
<rect x="521" y="37.91" width="6.1" height="6.03" fill="#ff0078"/>
<rect x="521" y="43.64" width="6.1" height="6.03" fill="#ff008f"/>
<rect x="521" y="49.37" width="6.1" height="6.03" fill="#ff00a7"/>
<rect x="521" y="55.10" width="6.1" height="6.03" fill="#ff00bf"/>
<rect x="521" y="60.83" width="6.1" height="6.03" fill="#ff00d7"/>
<rect x="521" y="66.55" width="6.1" height="6.03" fill="#ff00ef"/>
<rect x="521" y="72.28" width="6.1" height="6.03" fill="#f700ff"/>
<rect x="521" y="78.01" width="6.1" height="6.03" fill="#df00ff"/>
<rect x="521" y="83.74" width="6.1" height="6.03" fill="#c700ff"/>
<rect x="521" y="89.47" width="6.1" height="6.03" fill="#af00ff"/>
<rect x="521" y="95.19" width="6.1" height="6.03" fill="#9700ff"/>
<rect x="521" y="100.92" width="6.1" height="6.03" fill="#8000ff"/>
<rect x="521" y="106.65" width="6.1" height="6.03" fill="#6800ff"/>
<rect x="521" y="112.38" width="6.1" height="6.03" fill="#5000ff"/>
<rect x="521" y="118.11" width="6.1" height="6.03" fill="#3800ff"/>
<rect x="521" y="123.83" width="6.1" height="6.03" fill="#2000ff"/>
<rect x="521" y="129.56" width="6.1" height="6.03" fill="#0800ff"/>
<rect x="521" y="135.29" width="6.1" height="6.03" fill="#0010ff"/>
<rect x="521" y="141.02" width="6.1" height="6.03" fill="#0028ff"/>
<rect x="521" y="146.75" width="6.1" height="6.03" fill="#0040ff"/>
<rect x="521" y="152.48" width="6.1" height="6.03" fill="#0058ff"/>
<rect x="521" y="158.20" width="6.1" height="6.03" fill="#0070ff"/>
<rect x="521" y="163.93" width="6.1" height="6.03" fill="#0087ff"/>
<rect x="521" y="169.66" width="6.1" height="6.03" fill="#009fff"/>
<rect x="521" y="175.39" width="6.1" height="6.03" fill="#00b7ff"/>
<rect x="521" y="181.12" width="6.1" height="6.03" fill="#00cfff"/>
<rect x="521" y="186.84" width="6.1" height="6.03" fill="#00e7ff"/>
<rect x="521" y="192.57" width="6.1" height="6.03" fill="#00ffff"/>
<rect x="521" y="198.30" width="6.1" height="6.03" fill="#00ffe7"/>
<rect x="521" y="204.03" width="6.1" height="6.03" fill="#00ffcf"/>
<rect x="521" y="209.76" width="6.1" height="6.03" fill="#00ffb7"/>
<rect x="521" y="215.48" width="6.1" height="6.03" fill="#00ff9f"/>
<rect x="521" y="221.21" width="6.1" height="6.03" fill="#00ff87"/>
<rect x="521" y="226.94" width="6.1" height="6.03" fill="#00ff70"/>
<rect x="521" y="232.67" width="6.1" height="6.03" fill="#00ff58"/>
<rect x="521" y="238.40" width="6.1" height="6.03" fill="#00ff40"/>
<rect x="521" y="244.12" width="6.1" height="6.03" fill="#00ff28"/>
<rect x="521" y="249.85" width="6.1" height="6.03" fill="#00ff10"/>
<rect x="521" y="255.58" width="6.1" height="6.03" fill="#08ff00"/>
<rect x="521" y="261.31" width="6.1" height="6.03" fill="#20ff00"/>
<rect x="521" y="267.04" width="6.1" height="6.03" fill="#38ff00"/>
<rect x="521" y="272.77" width="6.1" height="6.03" fill="#50ff00"/>
<rect x="521" y="278.49" width="6.1" height="6.03" fill="#68ff00"/>
<rect x="521" y="284.22" width="6.1" height="6.03" fill="#80ff00"/>
<rect x="521" y="289.95" width="6.1" height="6.03" fill="#97ff00"/>
<rect x="521" y="295.68" width="6.1" height="6.03" fill="#afff00"/>
<rect x="521" y="301.41" width="6.1" height="6.03" fill="#c7ff00"/>
<rect x="521" y="307.13" width="6.1" height="6.03" fill="#dfff00"/>
<rect x="521" y="312.86" width="6.1" height="6.03" fill="#f7ff00"/>
<rect x="521" y="318.59" width="6.1" height="6.03" fill="#ffef00"/>
<rect x="521" y="324.32" width="6.1" height="6.03" fill="#ffd700"/>
<rect x="521" y="330.05" width="6.1" height="6.03" fill="#ffbf00"/>
<rect x="521" y="335.78" width="6.1" height="6.03" fill="#ffa700"/>
<rect x="521" y="341.50" width="6.1" height="6.03" fill="#ff8f00"/>
<rect x="521" y="347.23" width="6.1" height="6.03" fill="#ff7800"/>
<rect x="521" y="352.96" width="6.1" height="6.03" fill="#ff6000"/>
<rect x="521" y="358.69" width="6.1" height="6.03" fill="#ff4800"/>
<rect x="521" y="364.42" width="6.1" height="6.03" fill="#ff3000"/>
<rect x="521" y="370.14" width="6.1" height="6.03" fill="#ff1800"/>
<rect x="521" y="375.87" width="6.1" height="6.03" fill="#ff0000"/>
</g>
<path d="M530.2 15.30h3.2" stroke="#555" stroke-width="0.8" fill="none"/>
<text class="tk" x="536" y="18.60">9</text>
<path d="M530.2 76.35h3.2" stroke="#555" stroke-width="0.8" fill="none"/>
<text class="tk" x="536" y="79.65">10</text>
<path d="M530.2 137.40h3.2" stroke="#555" stroke-width="0.8" fill="none"/>
<text class="tk" x="536" y="140.70">11</text>
<path d="M530.2 198.45h3.2" stroke="#555" stroke-width="0.8" fill="none"/>
<text class="tk" x="536" y="201.75">12</text>
<path d="M530.2 259.50h3.2" stroke="#555" stroke-width="0.8" fill="none"/>
<text class="tk" x="536" y="262.80">13</text>
<path d="M530.2 320.55h3.2" stroke="#555" stroke-width="0.8" fill="none"/>
<text class="tk" x="536" y="323.85">14</text>
<path d="M530.2 381.60h3.2" stroke="#555" stroke-width="0.8" fill="none"/>
<text class="tk" x="536" y="384.90">15</text>
</svg></body></html>
